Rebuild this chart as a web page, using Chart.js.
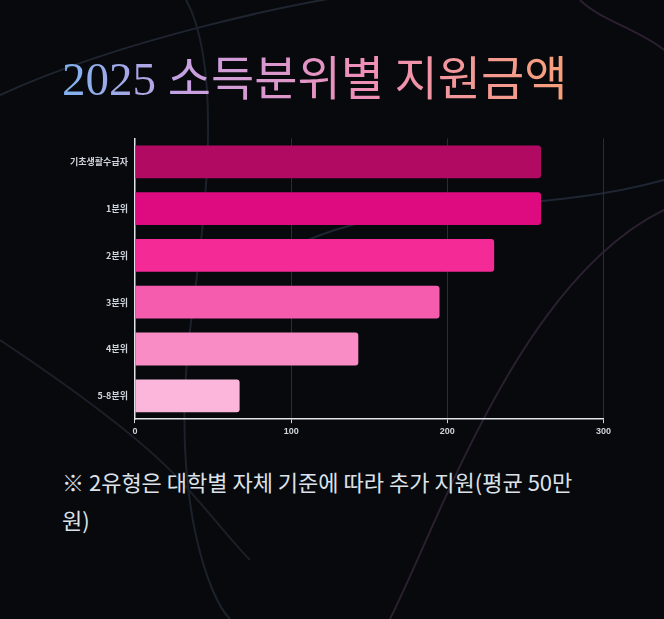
<!DOCTYPE html>
<html>
<head>
<meta charset="utf-8">
<script src="https://cdn.jsdelivr.net/npm/chart.js@4"></script>
<style>
  html, body { margin: 0; padding: 0; }
  body { width: 664px; height: 619px; background: #07090c; position: relative; overflow: hidden; font-family: "Noto Sans CJK KR", sans-serif; }
  svg.bg { position: absolute; left: 0; top: 0; }
  h1 {
    position: absolute; left: 62px; top: 44px; margin: 0;
    font-family: "Liberation Serif", "Noto Sans CJK KR", serif; font-weight: 300; font-size: 47px; line-height: 62px;
    background: linear-gradient(90deg, #7fb2f0 0%, #c9a0e0 25%, #ef8fb8 60%, #f7a07a 100%);
    -webkit-background-clip: text; background-clip: text; color: transparent;
  }
  h1 .ko { font-family: "Noto Sans CJK KR", sans-serif; font-weight: 400; }
  #wrap { position: absolute; left: 67px; top: 130px; width: 547px; height: 310px; }
  p.note { position: absolute; left: 62px; top: 462px; width: 530px; margin: 0; color: #dde2ea; font-size: 22px; line-height: 38px; }
</style>
</head>
<body>
<svg class="bg" width="664" height="619">
  <g fill="none" stroke-width="2">
    <path d="M0 95 C120 40 300 0 390 -10" stroke="#1f2530"/>
    <path d="M180 -10 C230 60 200 250 190 330 C170 500 210 600 230 619" stroke="#1c222c"/>
    <path d="M0 340 C60 380 130 430 170 470 C200 500 230 540 250 560" stroke="#1a1f28"/>
    <path d="M270 260 C380 190 520 220 664 180" stroke="#1f2633"/>
    <path d="M390 619 C440 520 520 280 664 210" stroke="#2a2030"/>
    <path d="M580 0 C600 20 640 30 664 50" stroke="#2a2030"/>
  </g>
</svg>
<h1>2025 <span class="ko">소득분위별 지원금액</span></h1>
<div id="wrap"><canvas id="incomeChart"></canvas></div>
<p class="note">※ 2유형은 대학별 자체 기준에 따라 추가 지원(평균 50만원)</p>
<script>
const labels = ['기초생활수급자', '1분위', '2분위', '3분위', '4분위', '5-8분위'];
const amounts = [260, 260, 230, 195, 143, 67];
const barColors = ['#b00a62', '#dd0a80', '#f42a96', '#f65cae', '#f98bc5', '#fcb6dc'];

new Chart(document.getElementById('incomeChart'), {
    type: 'bar',
    data: {
        labels: labels,
        datasets: [{
            data: amounts,
            backgroundColor: barColors,
            borderRadius: 3,
            borderSkipped: 'start',
            categoryPercentage: 1,
            barPercentage: 0.7
        }]
    },
    options: {
        indexAxis: 'y',
        responsive: true,
        maintainAspectRatio: false,
        animation: false,
        plugins: { legend: { display: false }, tooltip: { enabled: false } },
        scales: {
            x: {
                min: 0, max: 300,
                ticks: { stepSize: 100, color: '#cfd4dc', font: { size: 9, weight: 'bold' } },
                grid: { color: '#2a2d33', tickColor: '#cfd4dc', tickLength: 4 },
                border: { color: '#e0e4ea', width: 1.5 }
            },
            y: {
                ticks: { color: '#cfd4dc', font: { size: 9, weight: 'bold', family: 'Noto Sans CJK KR' } },
                grid: { display: false, drawTicks: true, tickColor: '#cfd4dc', tickLength: 4 },
                border: { color: '#e0e4ea', width: 1.5 }
            }
        }
    }
});
</script>
</body>
</html>
